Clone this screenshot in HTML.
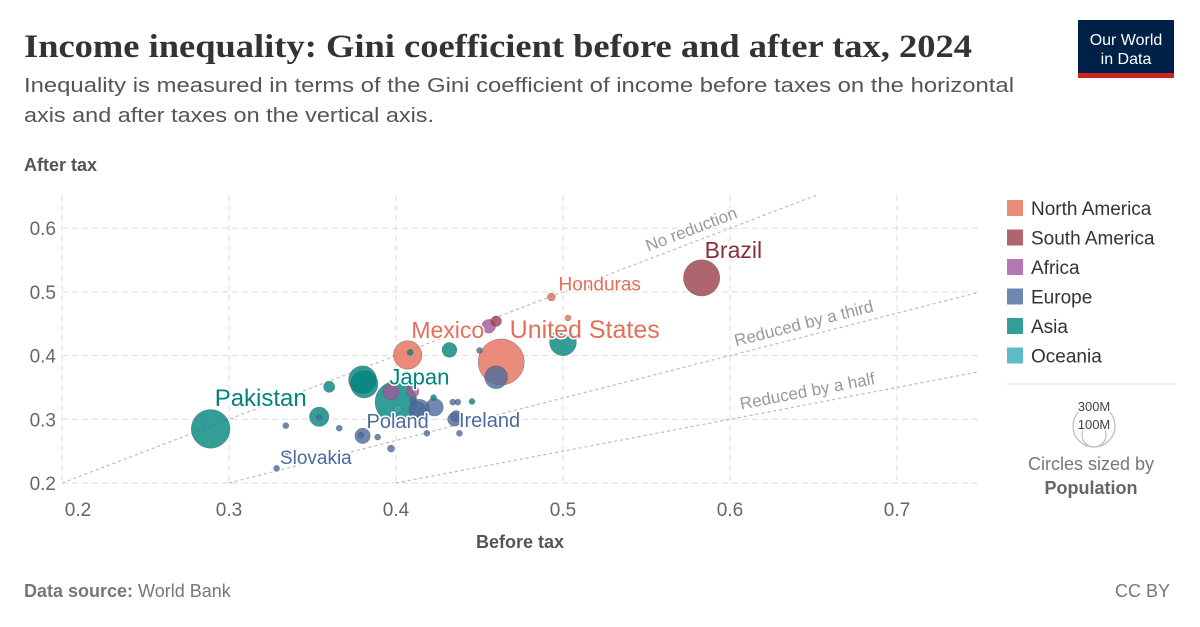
<!DOCTYPE html>
<html><head><meta charset="utf-8"><style>
html,body{margin:0;padding:0;background:#fff;}
svg{display:block;font-family:"Liberation Sans",sans-serif;}
.tick{font-size:19px;fill:#666;}
.leg{font-size:19px;fill:#333;}
.lbl{paint-order:stroke;stroke:#fff;stroke-width:3px;stroke-linejoin:round;}
</style></head><body>
<svg id="chart" width="1200" height="627" viewBox="0 0 1200 627">
<text x="24" y="57" font-family="Liberation Serif,serif" font-weight="bold" font-size="33" fill="#333" textLength="948" lengthAdjust="spacingAndGlyphs">Income inequality: Gini coefficient before and after tax, 2024</text>
<text x="24" y="92" font-size="20" fill="#555" textLength="990" lengthAdjust="spacingAndGlyphs">Inequality is measured in terms of the Gini coefficient of income before taxes on the horizontal</text>
<text x="24" y="122" font-size="20" fill="#555" textLength="410" lengthAdjust="spacingAndGlyphs">axis and after taxes on the vertical axis.</text>
<g>
<rect x="1078" y="20" width="96" height="53" fill="#002147"/>
<rect x="1078" y="73" width="96" height="5" fill="#ce261e"/>
<text x="1126" y="45" font-size="16" fill="#fff" text-anchor="middle">Our World</text>
<text x="1126" y="64" font-size="16" fill="#fff" text-anchor="middle">in Data</text>
</g>
<text x="24" y="171" font-size="18" font-weight="bold" fill="#555">After tax</text>
<g id="grid"></g>
<g id="refs"></g>
<g id="points"></g>
<g id="labels"></g>
<text x="520" y="548" font-size="18" font-weight="bold" fill="#555" text-anchor="middle">Before tax</text>
<g id="legend"></g>
<g>
<line x1="1007" y1="384" x2="1176" y2="384" stroke="#ddd" stroke-width="1"/>
<circle cx="1094" cy="426" r="21" fill="none" stroke="#bbb" stroke-width="1.2"/>
<circle cx="1094" cy="435" r="12" fill="none" stroke="#bbb" stroke-width="1.2"/>
<text x="1094" y="411" font-size="13" fill="#444" text-anchor="middle" class="lbl">300M</text>
<text x="1094" y="429" font-size="13" fill="#444" text-anchor="middle" class="lbl">100M</text>
<text x="1091" y="470" font-size="18" fill="#777" text-anchor="middle">Circles sized by</text>
<text x="1091" y="494" font-size="18" font-weight="bold" fill="#666" text-anchor="middle">Population</text>
</g>
<text x="24" y="597" font-size="18" fill="#777"><tspan font-weight="bold">Data source:</tspan> World Bank</text>
<text x="1170" y="597" font-size="18" fill="#777" text-anchor="end">CC BY</text>
</svg>
<script>
const xTicks=[0.2,0.3,0.4,0.5,0.6,0.7];
const yTicks=[0.2,0.3,0.4,0.5,0.6];
const regions=["North America","South America","Africa","Europe","Asia","Oceania"];
const regionColors=["#e56e5a","#9a3f48","#a2559c","#4c6a9c","#00847e","#38aaba"];
// country points: before tax, after tax, region index, population (millions)
const before=[0.289,0.583,0.463,0.46,0.407,0.38,0.381,0.40,0.50,0.493,0.432,0.36,0.354,0.354,0.397,0.41,0.4555,0.46,0.517,0.543,0.503,0.38,0.334,0.366,0.379,0.389,0.397,0.4185,0.414,0.423,0.413,0.436,0.435,0.41,0.434,0.437,0.438,0.450,0.4085,0.3285,0.3345,0.4225,0.4455,0.4085,0.401];
const after=[0.285,0.522,0.39,0.366,0.401,0.362,0.355,0.327,0.421,0.492,0.409,0.351,0.304,0.303,0.343,0.344,0.446,0.454,0.508,0.51,0.459,0.274,0.29,0.286,0.275,0.272,0.254,0.278,0.315,0.319,0.315,0.305,0.3,0.33,0.327,0.327,0.278,0.408,0.363,0.223,0.247,0.334,0.328,0.405,0.316];
const region=[4,1,0,3,0,4,4,4,4,0,4,4,4,3,2,2,2,1,2,1,0,3,3,3,3,3,3,3,3,3,3,3,3,3,3,3,3,3,3,3,3,4,4,4,5];
const population=[240,211,340,84,130,125,120,280,115,10,35,20,60,5,40,25,30,18,5,8,4,38,4,4,3,3,8,3,70,50,40,20,30,3,5,3,3,5,3,2,2,5,3,3,10];
const labelNames=["Pakistan","Brazil","United States","Mexico","Honduras","Japan","Poland","Ireland","Slovakia"];
const labelX=[0.319,0.602,0.513,0.431,0.522,0.414,0.401,0.456,0.352];
const labelY=[0.321,0.553,0.428,0.428,0.502,0.355,0.286,0.288,0.230];
const labelRegion=[4,1,0,0,0,4,3,3,3];
const labelSize=[24,23,25,23,19,22,20,20,19];
const labelColors=["#00847e","#883039","#e56e5a","#e56e5a","#e56e5a","#00847e","#4c6a9c","#4c6a9c","#4c6a9c"];
const refNames=["No reduction","Reduced by a third","Reduced by a half"];
const refFactor=[1,2/3,0.5];

const NS="http://www.w3.org/2000/svg";
const X0=62,X1=978,Y0=483,Y1=195;
const xs=v=>X0+(v-0.2)*1670;
const ys=v=>Y0-(v-0.2)*637;
function mk(tag,attrs,parent){const e=document.createElementNS(NS,tag);for(const k in attrs)e.setAttribute(k,attrs[k]);parent.appendChild(e);return e;}
const grid=document.getElementById('grid');
xTicks.forEach(t=>{
 const l=mk('line',{x1:xs(t),x2:xs(t),y1:Y1,y2:Y0,stroke:'#ddd','stroke-dasharray':'6,4'},grid);
 
 
 const tx=mk('text',{x:xs(t)+(t===0.2?16:0),y:516,'text-anchor':'middle',class:'tick'},grid);tx.textContent=t.toFixed(1);
 
 
});
yTicks.forEach(t=>{
 const l=mk('line',{x1:X0,x2:X1,y1:ys(t),y2:ys(t),stroke:'#ddd','stroke-dasharray':'6,4'},grid);
 
 
 const tx=mk('text',{x:56,y:ys(t)+7,'text-anchor':'end',class:'tick'},grid);tx.textContent=t.toFixed(1);
 
 
});
const refs=document.getElementById('refs');
refFactor.forEach((f,i)=>{
 const xa=0.2/f, xb=Math.min(0.749,0.652/f);
 const l=mk('line',{x1:xs(xa),y1:ys(xa*f),x2:xs(xb),y2:ys(xb*f),stroke:'#bbb','stroke-width':1.2,'stroke-dasharray':'3,3'},refs);
 
 
 const lx=[0.578,0.645,0.647][i], ly=lx*f+0.012;
 const ang=-Math.atan(637*f/1670)*180/Math.PI;
 const t=mk('text',{x:xs(lx),y:ys(ly),'font-size':17,fill:'#999','text-anchor':'middle',class:'lbl',transform:`rotate(${ang} ${xs(lx)} ${ys(ly)})`},refs);
 t.textContent=refNames[i];
 
 
});
const pts=document.getElementById('points');
const order=before.map((_,i)=>i).sort((a,b)=>population[b]-population[a]);
order.forEach(i=>{
 const r=Math.max(3,Math.sqrt(population[i])*1.25);
 const c=mk('circle',{cx:xs(before[i]),cy:ys(after[i]),r:r,fill:regionColors[region[i]],'fill-opacity':0.8,stroke:'#555','stroke-width':0.5,'stroke-opacity':0.7},pts);
 
 
});
const lg=document.getElementById('labels');
labelNames.forEach((n,i)=>{
 const t=mk('text',{x:xs(labelX[i]),y:ys(labelY[i]),'font-size':labelSize[i],fill:labelColors[i],'text-anchor':'middle',class:'lbl'},lg);
 t.textContent=n;
 
 
});
const leg=document.getElementById('legend');
regions.forEach((n,i)=>{
 const g=mk('g',{},leg);
 
 
 const y=200+i*29.5;
 mk('rect',{x:1007,y:y,width:16,height:16,fill:regionColors[i],'fill-opacity':0.8},g);
 const t=mk('text',{x:1031,y:y+15,class:'leg'},g);t.textContent=n;
});
</script>
</body></html>
